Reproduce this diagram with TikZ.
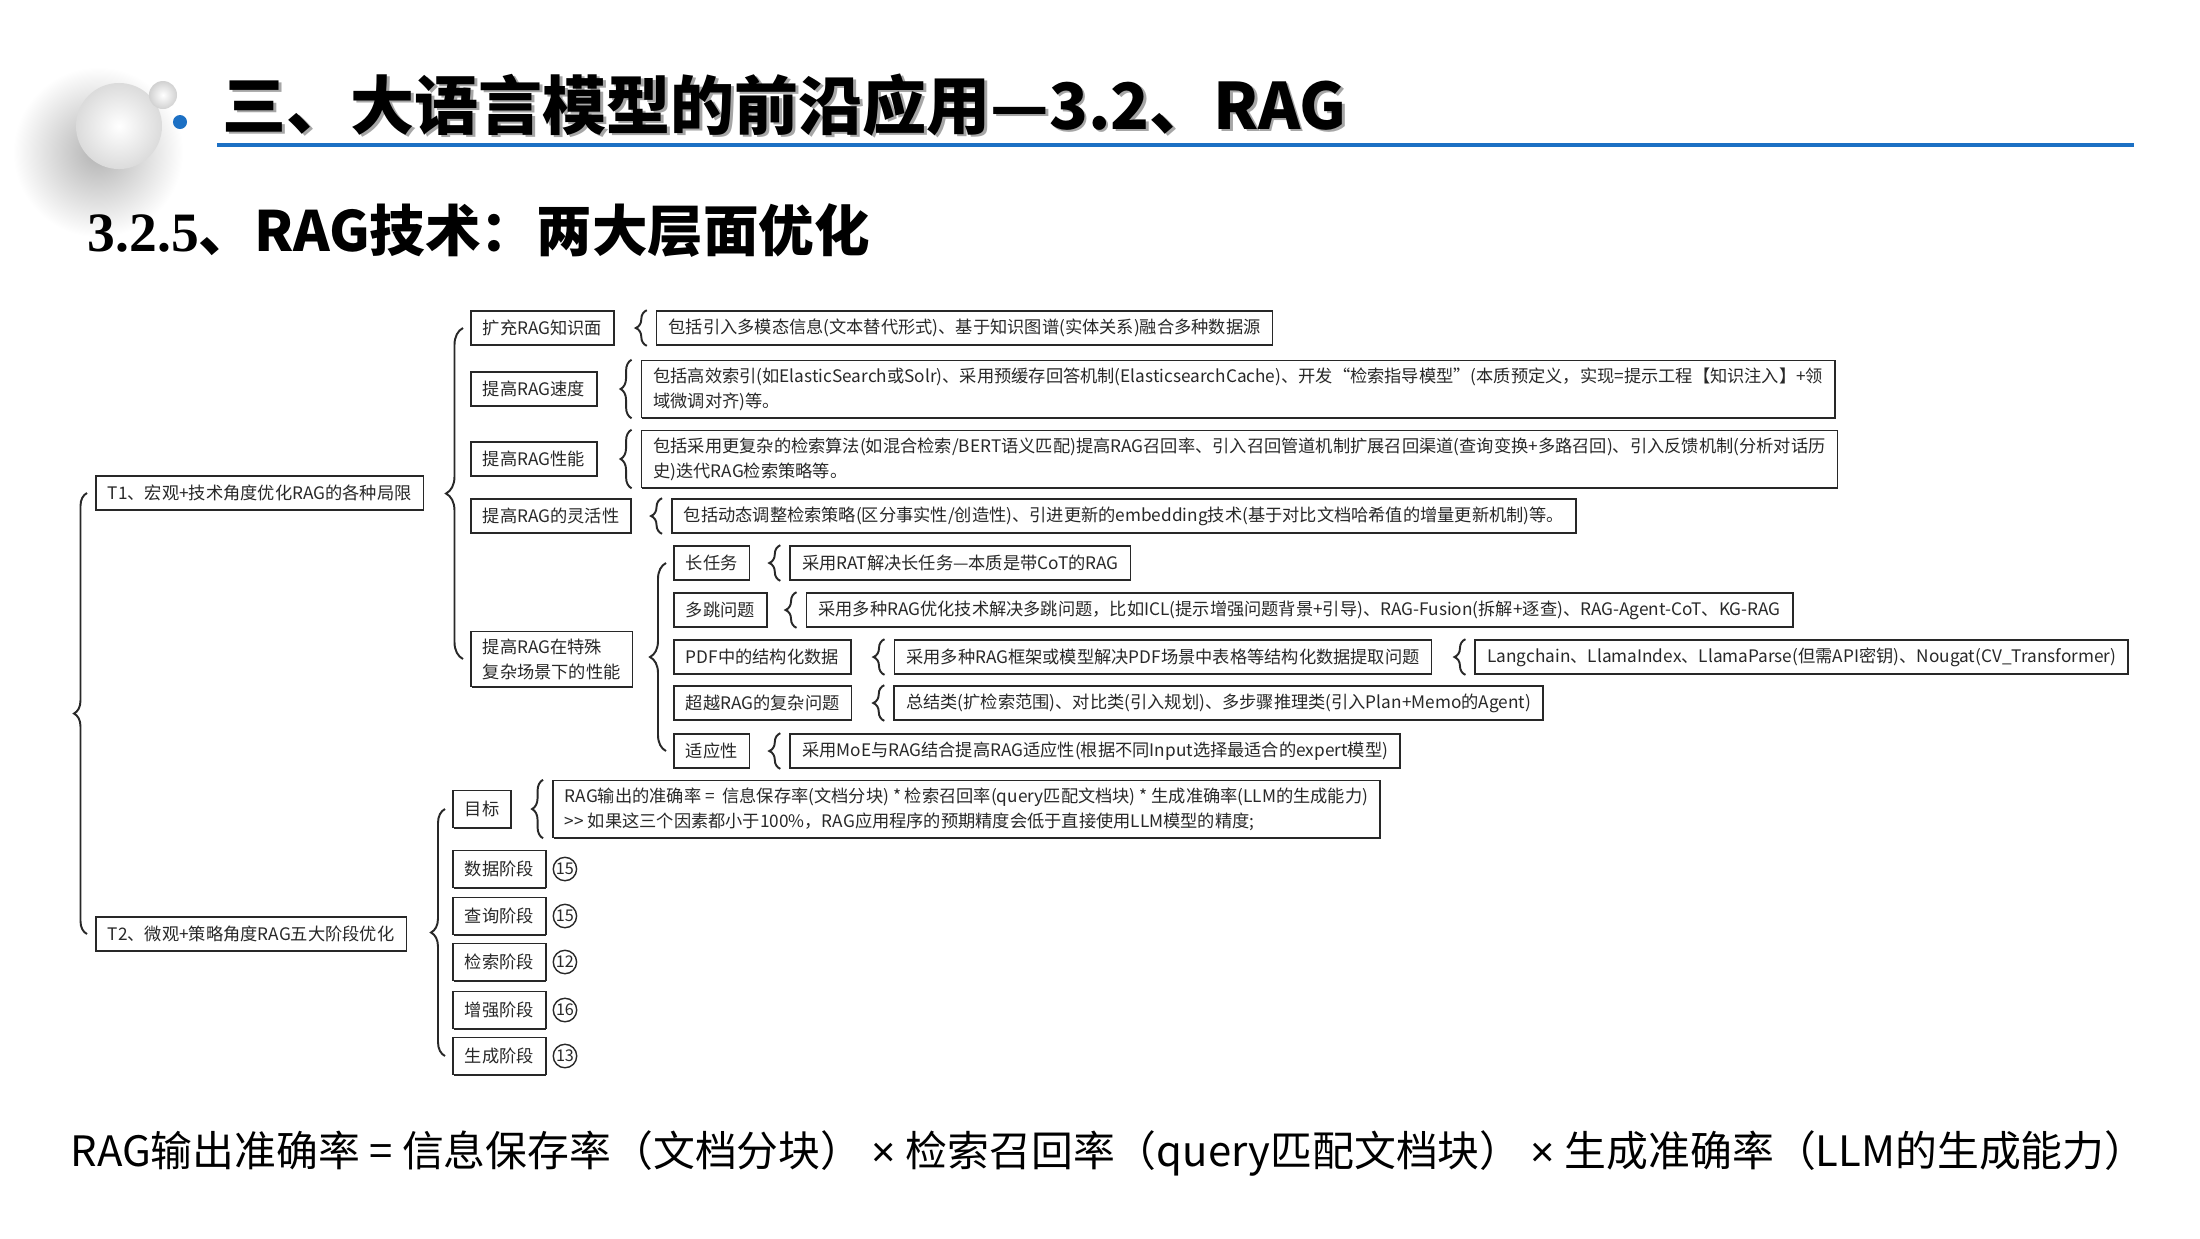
\documentclass[tikz,border=0pt]{standalone}
\usepackage{fontspec}
\setmainfont{Noto Sans CJK SC}
\newfontfamily\serifnum{Liberation Serif}
\newfontfamily\latinsans{Liberation Sans}
\usetikzlibrary{positioning,decorations.pathreplacing,shadows}
\definecolor{titleblue}{RGB}{28,112,196}
\definecolor{inkgray}{RGB}{40,40,40}

\begin{document}
\begin{tikzpicture}[x=0.01cm, y=-0.01cm,
  bx/.style={draw=inkgray, line width=0.45pt, fill=white, anchor=west, align=left,
             font=\fontsize{4.9}{7.1}\selectfont, text=inkgray,
             inner xsep=1.2mm, inner ysep=0.7mm, minimum height=3.4mm,
             drop shadow={shadow xshift=0.2pt, shadow yshift=-0.35pt, fill=inkgray, opacity=1}},
  st/.style={bx, minimum height=3.7mm},
  cb/.style={draw=inkgray, line width=0.55pt, decorate, decoration={brace, amplitude=#1}},
  cb/.default=1.1mm,
  nm/.style={circle, draw=inkgray, line width=0.4pt, inner sep=0.2pt, minimum size=2.2mm,
             font=\fontsize{4.6}{5}\selectfont, text=inkgray}]

\useasboundingbox (0,0) rectangle (2200,1238);
\fill[white] (0,0) rectangle (2200,1238);

% --- corner ornament and title ---
\shade[inner color=black!30, outer color=white] (98,152) circle (8.5mm);
\shade[inner color=white, outer color=black!14] (119,126) circle (4.3mm);
\shade[inner color=white, outer color=black!18] (163,95) circle (1.4mm);
\fill[titleblue] (180,122) circle (0.7mm);

\node[anchor=west, inner sep=0, font=\fontsize{18.2}{20}\selectfont\bfseries, text=black!35,
      xshift=0.7pt, yshift=-0.7pt] at (222,105) {三、大语言模型的前沿应用—3.2、RAG};
\node[anchor=west, inner sep=0, font=\fontsize{18.2}{20}\selectfont\bfseries] (ttl) at (222,105)
  {三、大语言模型的前沿应用—3.2、RAG};
\draw[titleblue, line width=0.9pt] (217,145) -- (2134,145);

\node[anchor=west, inner sep=0, font=\fontsize{15.8}{17}\selectfont\bfseries] (sub) at (87,231)
  {{\serifnum 3.2.5}、RAG技术：两大层面优化};

% --- level 1 ---
\node[bx] (t1) at (95,493) {T1、宏观+技术角度优化RAG的各种局限};
\node[bx] (t2) at (95,934) {T2、微观+策略角度RAG五大阶段优化};

% --- T1 branches ---
\node[bx] (kz) at (470,328) {扩充RAG知识面};
\node[bx] (sd) at (470,389) {提高RAG速度};
\node[bx] (xn) at (470,459) {提高RAG性能};
\node[bx] (lh) at (470,516) {提高RAG的灵活性};
\node[bx] (ts) at (470,659) {提高RAG在特殊\\复杂场景下的性能};

\node[bx, right=4.1mm of kz] (kzd) {包括引入多模态信息(文本替代形式)、基于知识图谱(实体关系)融合多种数据源};
\node[bx, right=4.3mm of sd] (sdd) {包括高效索引(如ElasticSearch或Solr)、采用预缓存回答机制(ElasticsearchCache)、开发“检索指导模型”(本质预定义，实现=提示工程【知识注入】+领\\域微调对齐)等。};
\node[bx, right=4.3mm of xn] (xnd) {包括采用更复杂的检索算法(如混合检索/BERT语义匹配)提高RAG召回率、引入召回管道机制扩展召回渠道(查询变换+多路召回)、引入反馈机制(分析对话历\\史)迭代RAG检索策略等。};
\node[bx, right=3.9mm of lh] (lhd) {包括动态调整检索策略(区分事实性/创造性)、引进更新的embedding技术(基于对比文档哈希值的增量更新机制)等。};

% --- special scenarios ---
\node[bx] (cr) at (673,563) {长任务};
\node[bx] (dt) at (673,610) {多跳问题};
\node[bx] (pdf) at (673,657) {PDF中的结构化数据};
\node[bx] (cy) at (673,703) {超越RAG的复杂问题};
\node[bx] (sy) at (673,751) {适应性};

\node[bx, right=3.9mm of cr] (crd) {采用RAT解决长任务—本质是带CoT的RAG};
\node[bx, right=3.8mm of dt] (dtd) {采用多种RAG优化技术解决多跳问题，比如ICL(提示增强问题背景+引导)、RAG-Fusion(拆解+逐查)、RAG-Agent-CoT、KG-RAG};
\node[bx, right=4.2mm of pdf] (pdfd) {采用多种RAG框架或模型解决PDF场景中表格等结构化数据提取问题};
\node[bx, right=4.2mm of pdfd] (pdfe) {Langchain、LlamaIndex、LlamaParse(但需API密钥)、Nougat(CV\_Transformer)};
\node[bx, right=4.1mm of cy] (cyd) {总结类(扩检索范围)、对比类(引入规划)、多步骤推理类(引入Plan+Memo的Agent)};
\node[bx, right=3.9mm of sy] (syd) {采用MoE与RAG结合提高RAG适应性(根据不同Input选择最适合的expert模型)};

% --- T2 branches ---
\node[st] (mb) at (452,809) {目标};
\node[bx, right=4mm of mb] (mbd) {RAG输出的准确率 = \ 信息保存率(文档分块) * 检索召回率(query匹配文档块) * 生成准确率(LLM的生成能力)\\>{}> 如果这三个因素都小于100\%，RAG应用程序的预期精度会低于直接使用LLM模型的精度;};
\foreach \n/\lbl/\y/\v in {sj/数据阶段/869/15, cx/查询阶段/916/15, js/检索阶段/962/12,
                            zq/增强阶段/1010/16, sc/生成阶段/1056/13}{
  \node[st] (\n) at (452,\y) {\lbl};
  \node[nm, right=0.6mm of \n] (\n n) {\v};
}

% --- braces ---
\draw[cb=1.3mm] ([xshift=-0.8mm]t2.west) -- ([xshift=-0.8mm]t1.west);
\draw[cb=1.7mm] ([xshift=-0.7mm]ts.west) -- ([xshift=-0.7mm]kz.west);
\draw[cb=1.6mm] ([xshift=-0.7mm]sy.west) -- ([xshift=-0.7mm]cr.west);
\draw[cb=1.4mm] ([xshift=-0.7mm]sc.west) -- ([xshift=-0.7mm]mb.west);
\foreach \d in {kzd,sdd,xnd,lhd,crd,dtd,pdfd,pdfe,cyd,syd,mbd}
  \draw[cb] ([xshift=-0.9mm]\d.south west) -- ([xshift=-0.9mm]\d.north west);

% --- formula ---
\node[anchor=west, inner sep=0, font=\fontsize{11.9}{13}\selectfont] (eq) at (70,1153)
  {RAG输出准确率 = 信息保存率（文档分块）\ {\latinsans ×} 检索召回率（query匹配文档块）\ {\latinsans ×} 生成准确率（LLM的生成能力）};
\end{tikzpicture}
\end{document}
